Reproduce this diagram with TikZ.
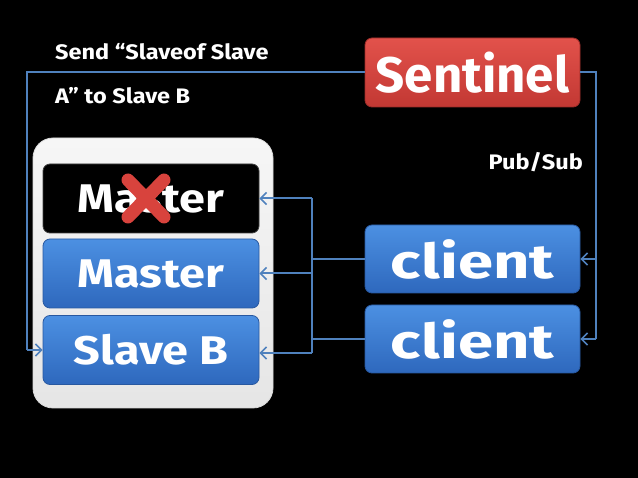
\documentclass[tikz,border=0pt]{standalone}
\usepackage{fontspec}
\setmainfont{Fira Sans}
\usetikzlibrary{arrows.meta,calc}
\definecolor{linecol}{HTML}{4F81BD}
\definecolor{bluetop}{HTML}{4C90E2}
\definecolor{bluebot}{HTML}{2E68BD}
\definecolor{blueedge}{HTML}{2858A0}
\definecolor{redtop}{HTML}{E2524B}
\definecolor{redbot}{HTML}{C23833}
\definecolor{xred}{HTML}{D8433D}
\tikzset{
  conn/.style={draw=linecol, line width=2pt},
  arr/.style={conn, -{Straight Barb[length=6pt,width=12pt,line width=1.6pt]}},
  bluebox/.style={draw=blueedge, line width=0.8pt, rounded corners=7pt,
     top color=bluetop, bottom color=bluebot, minimum width=216pt, minimum height=69pt,
     text=white, inner sep=0pt},
  deadbox/.style={draw=black!75, line width=0.8pt, rounded corners=7pt, fill=black,
     minimum width=216pt, minimum height=69pt, text=white, inner sep=0pt},
  redbox/.style={draw=redbot!80!black, line width=0.8pt, rounded corners=7pt,
     top color=redtop, bottom color=redbot, minimum width=215pt, minimum height=69pt,
     text=white, inner sep=0pt},
  boxfont/.style={font=\fontsize{40}{40}\selectfont\bfseries\addfontfeature{FakeStretch=1.17}},
  bigfont/.style={font=\fontsize{50}{50}\selectfont\bfseries\addfontfeature{FakeStretch=1.02}},
  clientfont/.style={font=\fontsize{48}{48}\selectfont\bfseries\addfontfeature{FakeStretch=1.32}},
  labfont/.style={text=white, inner sep=0pt, font=\fontsize{21}{21}\selectfont\bfseries\addfontfeature{FakeStretch=1.12}},
}
\begin{document}
\begin{tikzpicture}[x=1pt,y=-1pt]
\useasboundingbox (0,0) rectangle (638,478);
\fill[black] (0,0) rectangle (638,478);
% container
\node[draw=white!70!gray, line width=0.8pt, rounded corners=20pt, top color=white!93!gray, bottom color=white!80!gray,
      minimum width=240pt, minimum height=270pt, inner sep=0pt] (cont) at (153,273) {};
% store boxes
\node[deadbox, boxfont] (dead) at (151,198.5) {Master};
\node[bluebox, boxfont] (master) at (151,273.5) {Master};
\node[bluebox, boxfont] (slaveb) at (151,350) {Slave B};
% red cross
\draw[xred, line width=13pt, line cap=round] (128,180) -- (164,217) (164,180) -- (128,217);
% sentinel and clients
\node[redbox, bigfont] (sent) at (472.5,72.5) {Sentinel};
\node[bluebox, clientfont, minimum width=215pt, minimum height=68pt] (c1) at (472.5,259) {client};
\node[bluebox, clientfont, minimum width=215pt, minimum height=68pt] (c2) at (472.5,339) {client};
% labels
\node[labfont, anchor=west] (l1) at (55,52) {Send “Slaveof Slave};
\node[labfont, anchor=west] (l2) at (55,96) {A” to Slave B};
\node[labfont, anchor=east] (l3) at (583,162) {Pub/Sub};
% connectors
\coordinate (lx) at (27,0);
\coordinate (rx) at (596,0);
\coordinate (bx) at (312,0);
\draw[conn] (sent.west) -- (lx |- sent.west) -- (lx |- slaveb.west);
\draw[arr] (lx |- slaveb.west) -- (slaveb.west);
\draw[conn] (sent.east) -- (rx |- sent.east) -- (rx |- c2.east);
\draw[arr] (rx |- c1.east) -- (c1.east);
\draw[arr] (rx |- c2.east) -- (c2.east);
\draw[conn] (c1.west) -- (bx |- c1.west);
\draw[conn] (c2.west) -- (bx |- c2.west);
\draw[conn] (bx |- dead.east) -- ($(bx |- slaveb.east)+(0,3)$);
\draw[arr] (bx |- dead.east) -- (dead.east);
\draw[arr] (bx |- master.east) -- (master.east);
\draw[arr] ($(bx |- slaveb.east)+(0,3)$) -- ($(slaveb.east)+(0,3)$);
\end{tikzpicture}
\end{document}
